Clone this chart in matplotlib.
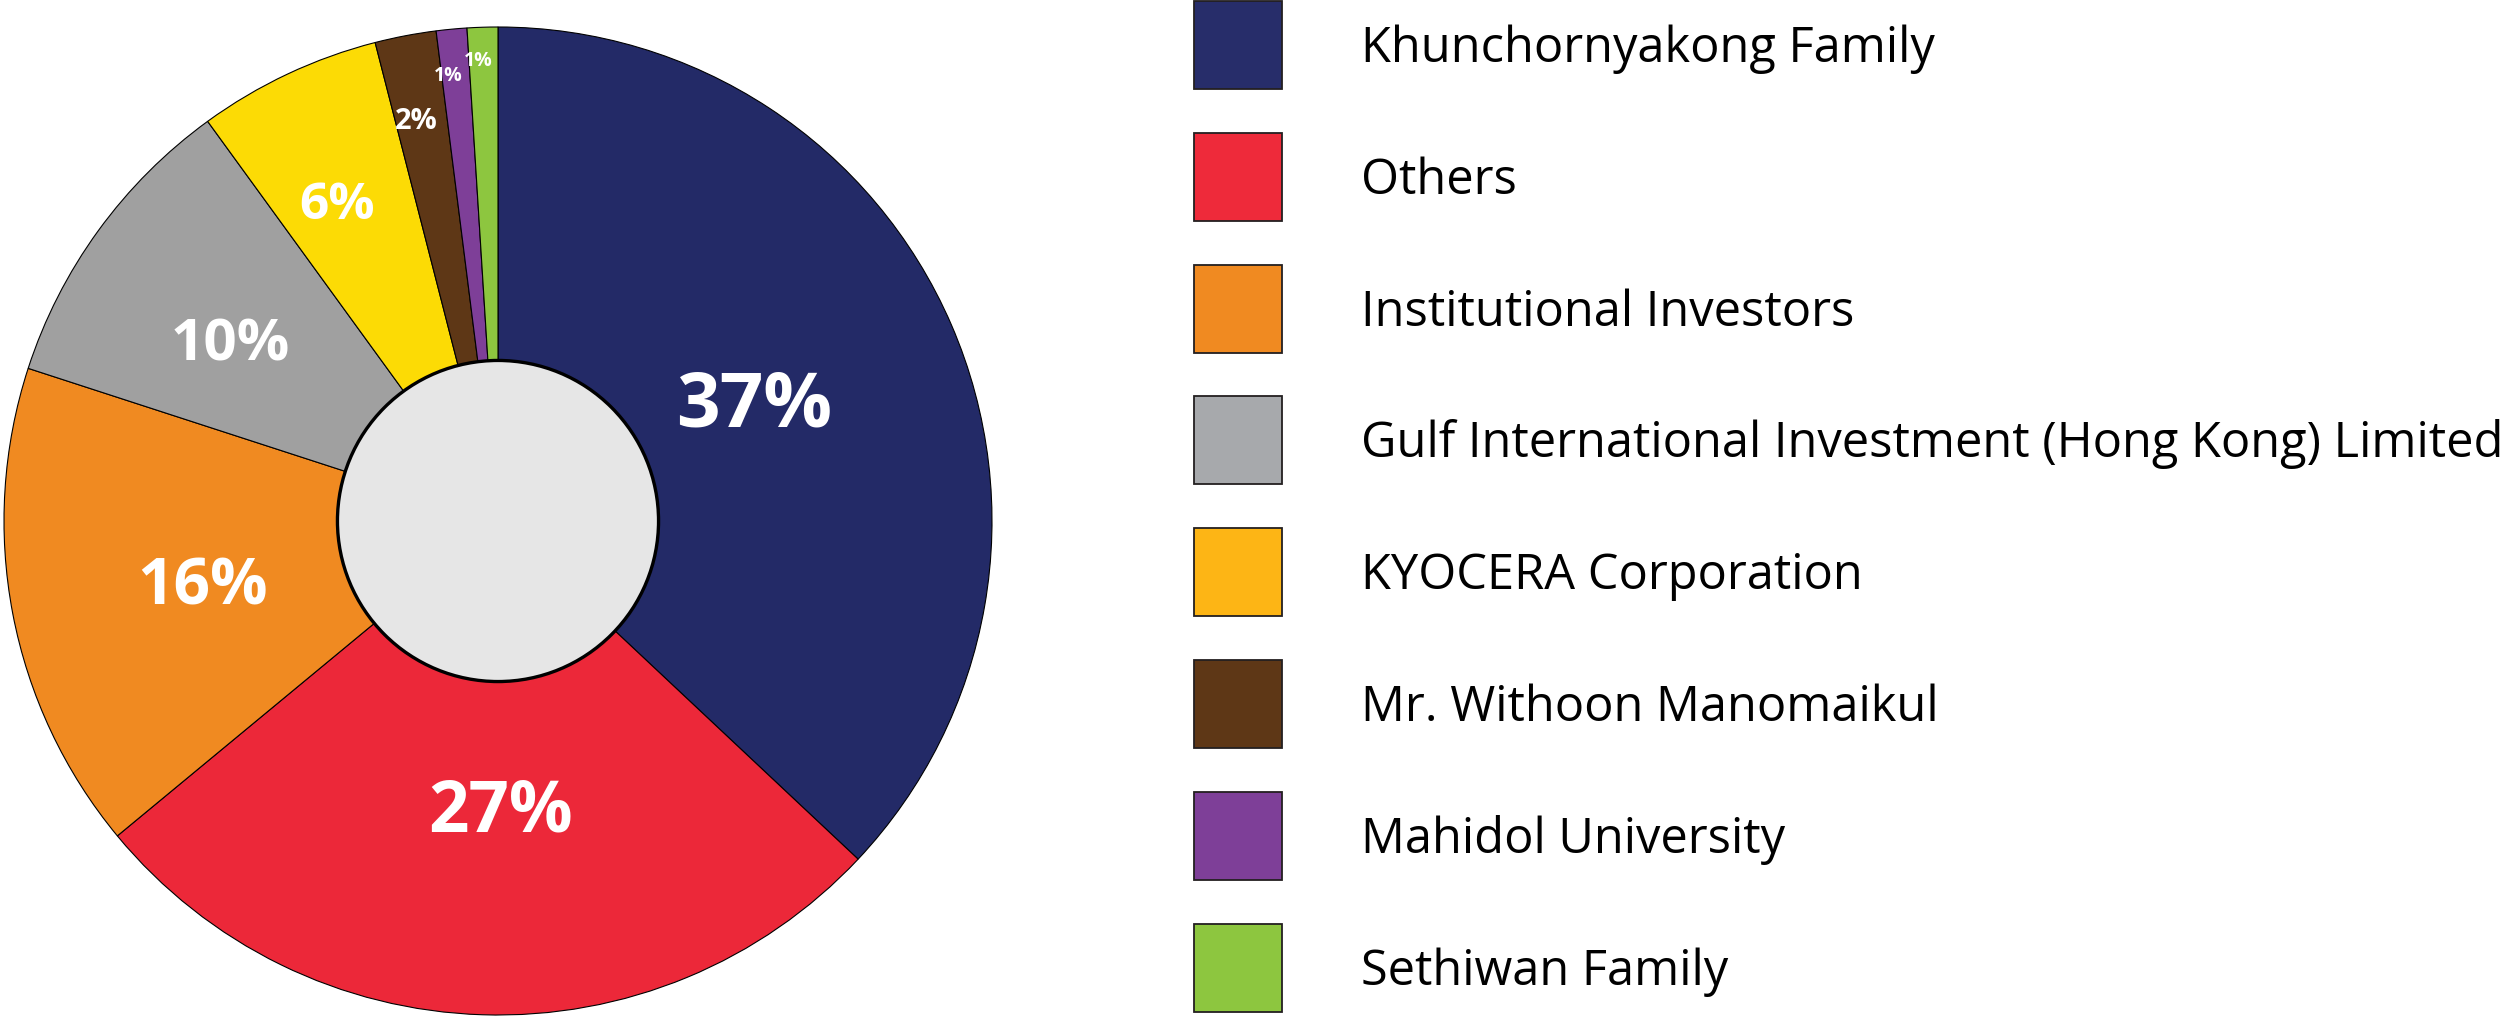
import numpy as np
import matplotlib
matplotlib.use("Agg")
import matplotlib.pyplot as plt
from matplotlib.patches import Circle, Rectangle

# ---------------- data ----------------
holders = ["Khunchornyakong Family", "Others", "Institutional Investors",
           "Gulf International Investment (Hong Kong) Limited",
           "KYOCERA Corporation", "Mr. Withoon Manomaikul",
           "Mahidol University", "Sethiwan Family"]
shares = [37, 27, 16, 10, 6, 2, 1, 1]
share_labels = ["37%", "27%", "16%", "10%", "6%", "2%", "1%", "1%"]

# ---------------- styles ----------------
pie_colors = ["#232A67", "#EC2839", "#F08A21", "#A0A0A0",
              "#FCDB05", "#5E3716", "#7E3F98", "#8DC63F"]
legend_colors = ["#272D6A", "#EE2A3A", "#F08A21", "#A7A9AC",
                 "#FDB515", "#5E3716", "#7E3F98", "#8DC63F"]
label_sizes = [55, 51, 46, 42, 37, 21, 14, 14]       # pt
label_radius = [0.574, 0.578, 0.61, 0.655, 0.726, 0.832, 0.911, 0.936]
label_dangle = [2.0, 2.4, 0.9, 1.9, 1.4, 0.7, 0.9, 0.6]   # deg offset from mid

W, H = 2513, 1016
fig = plt.figure(figsize=(W / 100, H / 100), dpi=100)

# pie axes (pixel geometry)
cx, cy, R = 498, 521, 494
ax = fig.add_axes([(cx - R) / W, (H - cy - R) / H, 2 * R / W, 2 * R / H])

wedges, _ = ax.pie(shares, colors=pie_colors, startangle=90, counterclock=False,
                   radius=1.0, wedgeprops=dict(edgecolor="black", linewidth=0.8))
ax.set_xlim(-1, 1)
ax.set_ylim(-1, 1)
ax.set_aspect("equal")
ax.axis("off")

inner = Circle((0, 0), 0.325, facecolor="#E6E6E6", edgecolor="black",
               linewidth=2.4, zorder=5)
ax.add_patch(inner)

for w, lab, fs, rf, da in zip(wedges, share_labels, label_sizes,
                              label_radius, label_dangle):
    mid = np.deg2rad((w.theta1 + w.theta2) / 2 + da)
    x, y = rf * np.cos(mid), rf * np.sin(mid)
    cap_px = fs * 100 / 72 * 0.714
    ax.text(x, y - (cap_px / 2) / R, lab, color="white", fontsize=fs,
            fontfamily="Open Sans", fontweight="bold",
            ha="center", va="baseline", zorder=6)

# legend axes in pixel coords
lax = fig.add_axes([0, 0, 1, 1])
lax.set_xlim(0, W)
lax.set_ylim(H, 0)
lax.axis("off")

box_x, box_w, box_h, top0, step = 1194, 88, 88, 1, 131.8
txt_x = 1361
texts = []
for i, (name, col) in enumerate(zip(holders, legend_colors)):
    top = top0 + step * i
    lax.add_patch(Rectangle((box_x, top), box_w, box_h, facecolor=col,
                            edgecolor="#231F20", linewidth=1.3))
    t = lax.text(txt_x, top + box_h / 2 + 17, name, fontsize=34,
                 fontfamily="Open Sans", ha="left", va="baseline", color="black")
    texts.append(t)

# fit legend text width: longest label spans ~1144 px
fig.canvas.draw()
r = fig.canvas.get_renderer()
wlong = texts[3].get_window_extent(renderer=r).width
scale = 1144 / wlong
for t in texts:
    t.set_fontsize(34 * scale)

fig.savefig("out.png", dpi=100, facecolor="white")
